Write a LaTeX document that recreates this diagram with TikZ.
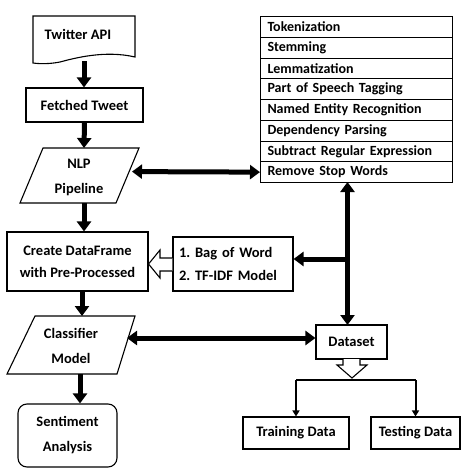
\documentclass[tikz,border=0pt]{standalone}
\usepackage{fontspec}
\setmainfont{Carlito}
\usetikzlibrary{arrows.meta,calc}
\frenchspacing
\begin{document}
\begin{tikzpicture}[x=1pt,y=-1pt,
  txt/.style={font=\bfseries\fontsize{14.5}{15}\selectfont,inner sep=0pt},
  twoline/.style={txt,align=center,font=\bfseries\fontsize{14.5}{25}\selectfont},
  box/.style={draw,line width=1.1pt,inner sep=0pt,font=\bfseries\fontsize{14.5}{22}\selectfont,align=center},
  outline/.style={draw,line width=1.1pt,fill=white},
  row/.style={draw,line width=1pt,anchor=north west,minimum width=192,minimum height=20.75,text width=178,inner xsep=7,inner ysep=0pt,align=left,font=\bfseries\fontsize{14}{15}\selectfont},
  thick arrow/.style={line width=5pt,-{Triangle[width=14pt,length=10pt]}},
  both arrow/.style={line width=5pt,{Triangle[width=14pt,length=10pt]}-{Triangle[width=14pt,length=10pt]}},
  thin arrow/.style={line width=2pt,-{Triangle[width=7pt,length=6pt]}},
]
\useasboundingbox (0,0) rectangle (474,474);

% Twitter API (document shape)
\draw[outline] (33,16) -- (135,16) -- (135,57)
  .. controls (105,50) and (75,58) .. (60,62)
  .. controls (50,64) and (40,64) .. (33,63) -- cycle;
\node[txt] (api) at (78,34) {Twitter API};
\coordinate (apiB) at (84,61);

% Fetched Tweet
\node[box,minimum width=117,minimum height=34] (fetch) at (84.5,105) {Fetched Tweet};

% NLP Pipeline (parallelogram)
\draw[outline] (43,148) -- (139,148) -- (116,203) -- (20,203) -- cycle;
\node[twoline] (nlp) at (79,177) {NLP\\Pipeline};
\coordinate (nlpT) at (84,148);
\coordinate (nlpB) at (84,203);
\coordinate (nlpR) at (132,171.6);

% Create DataFrame
\node[box,minimum width=141,minimum height=59] (df) at (77.5,261.5) {Create DataFrame\\with Pre-Processed};
\coordinate (dfB) at (82,291);

% Classifier Model (parallelogram)
\draw[outline] (35,316) -- (135,316) -- (117,374) -- (7,374) -- cycle;
\node[twoline] (clf) at (71,346) {Classifier\\Model};
\coordinate (clfT) at (82,316);
\coordinate (clfB) at (80,374);
\coordinate (clfR) at (127,338);

% Sentiment Analysis
\node[box,rounded corners=9pt,minimum width=99,minimum height=63,font=\bfseries\fontsize{14.5}{25}\selectfont] (sent) at (67.5,435.5) {Sentiment\\Analysis};

% Table of NLP steps
\node[row] (t1) at (260,16) {Tokenization};
\node[row] (t2) at (260,36.75) {Stemming};
\node[row] (t3) at (260,57.5) {Lemmatization};
\node[row] (t4) at (260,78.25) {Part of Speech Tagging};
\node[row] (t5) at (260,99) {Named Entity Recognition};
\node[row] (t6) at (260,119.75) {Dependency Parsing};
\node[row] (t7) at (260,140.5) {Subtract Regular Expression};
\node[row] (t8) at (260,161.25) {Remove Stop Words};
\coordinate (tabB) at (347.5,182);

% Bag of Word / TF-IDF
\node[draw,line width=1.1pt,minimum width=120,minimum height=54,inner sep=0pt,text width=108,align=left,font=\bfseries\fontsize{14.5}{23}\selectfont] (bag) at (233,264) {1. Bag of Word\\2. TF-IDF Model};
\coordinate (split) at (347.5,259);

% Dataset
\node[box,minimum width=71,minimum height=34] (data) at (351.5,342) {Dataset};
\coordinate (dataT) at (347.5,325);

% Training / Testing
\node[box,minimum width=106,minimum height=32] (train) at (296,433) {Training Data};
\node[box,minimum width=89,minimum height=32] (test) at (415.5,433) {Testing Data};

% Connectors
\draw[thick arrow] (apiB) -- (apiB |- fetch.north);
\draw[thick arrow] (fetch.south) -- (nlpT);
\draw[both arrow] (t8.west) -- (nlpR);
\draw[thick arrow] (nlpB) -- (nlpB |- df.north);
\draw[thick arrow] (dfB) -- (clfT);
\draw[thick arrow] (clfB) -- (clfB |- sent.north);
\draw[both arrow] (clfR) -- (clfR -| data.west);
\draw[both arrow] (tabB) -- (dataT);
\draw[thick arrow] (split) -- (split -| bag.east);

% Hollow arrow from Bag of Word to DataFrame
\draw[line width=1.1pt,fill=white,line join=miter] (bag.west |- 0,258) -- (160,258) -- (160,250) -- (df.east |- 0,264) -- (160,278) -- (160,271) -- (bag.west |- 0,271);

% Hollow arrow down from Dataset
\coordinate (fork) at (352,380);
\draw[line width=1.1pt,fill=white] (343,359) -- (343,365) -- (337,365) -- (352,378) -- (367,365) -- (360,365) -- (360,359);

% Split to training / testing
\draw[line width=2pt] (train.north |- fork) -- (test.north |- fork);
\draw[thin arrow] (train.north |- fork) -- (train.north);
\draw[thin arrow] (test.north |- fork) -- (test.north);
\end{tikzpicture}
\end{document}
